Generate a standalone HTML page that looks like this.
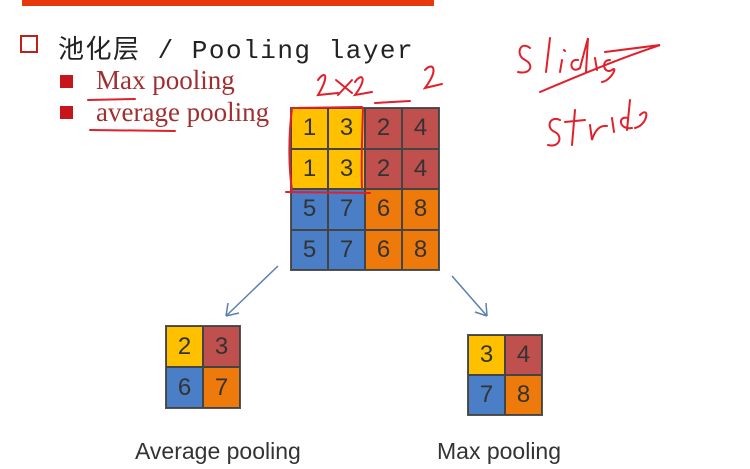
<!DOCTYPE html><html><head><style>
body{margin:0;width:750px;height:469px;background:#fff;position:relative;overflow:hidden;font-family:"Liberation Sans",sans-serif}
.g{position:absolute;display:grid;border:1px solid #555}
.g div{border:1px solid #444;box-sizing:border-box;display:flex;align-items:center;justify-content:center;font-size:24px;color:#333}
.y{background:#FFC000}.r{background:#C0504D}.b{background:#4A7EC6}.o{background:#EE7A0C}
</style></head><body>
<div style="position:absolute;left:22px;top:0;width:412px;height:6px;background:#E8380D"></div>
<div style="position:absolute;left:20px;top:35px;width:18px;height:18px;border:2px solid #C0201A;box-sizing:border-box"></div>
<div style="position:absolute;left:58px;top:29px;font-size:26px;color:#222;font-family:'Liberation Mono','Noto Sans CJK SC',monospace;letter-spacing:1.5px">池化层 / Pooling layer</div>
<div style="position:absolute;left:60px;top:75px;width:13px;height:13px;background:#C8151B"></div>
<div style="position:absolute;left:60px;top:106px;width:13px;height:13px;background:#C8151B"></div>
<div style="position:absolute;left:96px;top:65px;font-size:27px;color:#A03030;font-family:'Liberation Serif',serif">Max pooling</div>
<div style="position:absolute;left:96px;top:97px;font-size:27px;color:#A03030;font-family:'Liberation Serif',serif">average pooling</div>
<div class="g" style="left:290px;top:107px;grid-template-columns:repeat(4,37px);grid-template-rows:repeat(4,40.5px)">
<div class="y">1</div><div class="y">3</div><div class="r">2</div><div class="r">4</div>
<div class="y">1</div><div class="y">3</div><div class="r">2</div><div class="r">4</div>
<div class="b">5</div><div class="b">7</div><div class="o">6</div><div class="o">8</div>
<div class="b">5</div><div class="b">7</div><div class="o">6</div><div class="o">8</div></div>
<div class="g" style="left:165px;top:325px;grid-template-columns:repeat(2,37px);grid-template-rows:repeat(2,41px)">
<div class="y">2</div><div class="r">3</div><div class="b">6</div><div class="o">7</div></div>
<div class="g" style="left:467px;top:334px;grid-template-columns:repeat(2,37px);grid-template-rows:repeat(2,40px)">
<div class="y">3</div><div class="r">4</div><div class="b">7</div><div class="o">8</div></div>
<div style="position:absolute;left:135px;top:438px;font-size:23px;color:#333">Average pooling</div>
<div style="position:absolute;left:437px;top:438px;font-size:23px;color:#333">Max pooling</div>
<svg width="750" height="469" style="position:absolute;left:0;top:0" fill="none">
<g stroke="#5B7FB0" stroke-width="1.5"><path d="M278 266 L226 316 M226 316 L228 303 M226 316 L239 313"/><path d="M452 276 L487 316 M487 316 L475 312 M487 316 L486 303"/></g>
<g stroke="#E0202A" stroke-width="2" stroke-linecap="round">
<path d="M292 108 C288 140 289 170 292 190 M293 108 L362 107 M363 108 C362 140 361 165 362 188 M286 192 L370 193 M375 103 L410 101"/>
<path d="M88 100 L135 99 M90 130 L175 131"/>
<path d="M318 80 C325 70 330 75 318 95 L338 93 M336 80 L352 93 M352 80 L338 95 M355 82 C362 72 368 78 355 95 L372 92"/>
<path d="M425 70 C432 62 440 68 425 88 L442 84"/>
<path d="M530 48 C520 40 515 55 525 60 C535 65 530 75 518 72 M550 38 L546 72 M562 60 L560 72 M564 50 l1 1 M578 60 C568 58 570 75 580 68 L588 38 L586 72 M595 58 L597 70 M610 60 C600 60 604 75 612 70 C618 65 612 80 602 82 M605 52 L660 45 C640 52 620 58 540 92"/>
<path d="M560 120 C550 115 545 128 555 132 C563 136 560 148 548 145 M575 110 L572 145 M565 122 L585 120 M590 125 L592 140 C595 130 600 125 607 126 M612 118 L614 132 M630 100 L627 130 M628 118 C618 115 618 130 632 128 M640 115 C650 105 648 125 635 128"/>
</g></svg>
</body></html>
